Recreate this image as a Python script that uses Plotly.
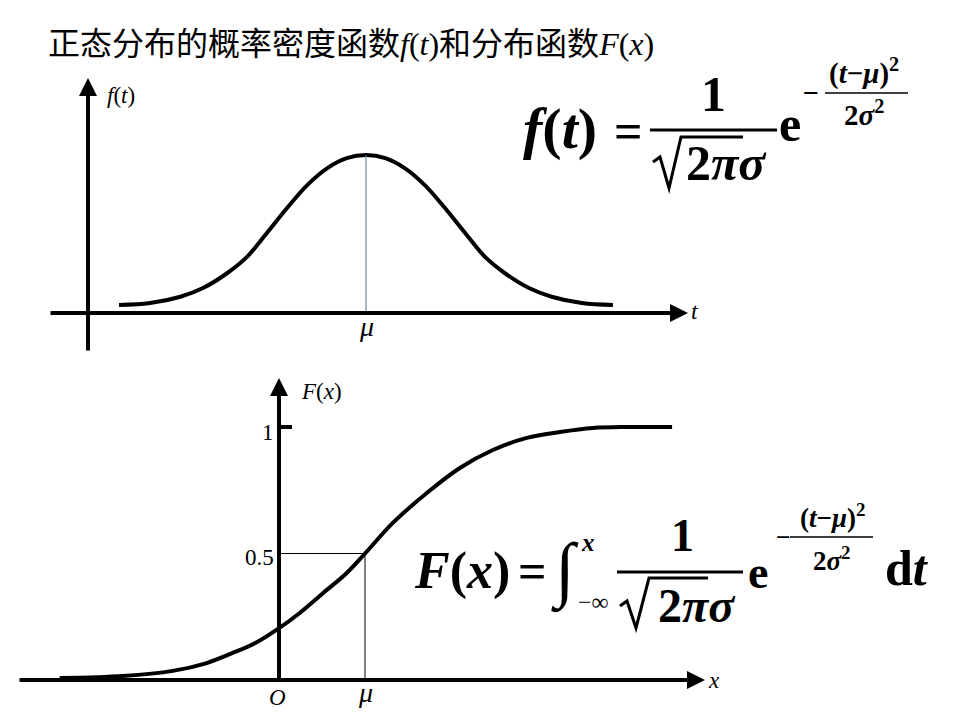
import plotly.graph_objects as go

W, H = 960, 720
SERIF = "Liberation Serif"
CJK = "Noto Sans CJK SC"

# 上图：正态分布密度曲线 f(t)（μ = 0，横轴以 σ 为单位）
t_vals = [-2.94, -2.57, -2.21, -1.94, -1.65, -1.42, -1.18, -0.94, -0.70, -0.46, -0.23, 0.0,
          0.23, 0.46, 0.70, 0.94, 1.18, 1.42, 1.65, 1.94, 2.21, 2.57, 2.94]
f_vals = [0.020, 0.025, 0.041, 0.063, 0.101, 0.141, 0.202, 0.265, 0.323, 0.366, 0.391, 0.399,
          0.391, 0.366, 0.323, 0.265, 0.202, 0.141, 0.101, 0.063, 0.041, 0.025, 0.020]
mu_t = 0.0

# 下图：分布函数曲线 F(x)（原点 O = 0，μ = 1）
x_vals = [-2.51, -1.78, -1.21, -0.82, -0.52, -0.24, 0.0, 0.25, 0.52, 0.79, 1.0, 1.32,
          1.71, 2.09, 2.47, 2.86, 3.24, 3.62, 4.01, 4.53]
F_vals = [0.008, 0.016, 0.036, 0.067, 0.107, 0.150, 0.202, 0.265, 0.344, 0.423, 0.5, 0.621,
          0.739, 0.838, 0.909, 0.957, 0.980, 0.996, 1.0, 1.0]
mu_x = 1.0
half = 0.5
one = 1.0

title_text = ("正态分布的概率密度函数<span style='font-family:Liberation Serif'><i>f</i>(<i>t</i>)</span>"
              "和分布函数<span style='font-family:Liberation Serif'><i>F</i>(<i>x</i>)</span>")


def px(x):
    return x / W


def py(y):
    return 1 - y / H


fig = go.Figure()

# 密度曲线
fig.add_trace(go.Scatter(x=t_vals, y=f_vals, mode='lines', line=dict(color='black', width=4, shape='spline'),
                         xaxis='x', yaxis='y', hoverinfo='skip'))
fig.add_trace(go.Scatter(x=[mu_t, mu_t], y=[0, max(f_vals)], mode='lines',
                         line=dict(color='#4a7896', width=1), xaxis='x', yaxis='y', hoverinfo='skip'))

# 分布函数曲线
fig.add_trace(go.Scatter(x=[0, mu_x, mu_x], y=[half, half, 0], mode='lines',
                         line=dict(color='black', width=1), xaxis='x2', yaxis='y2', hoverinfo='skip'))
fig.add_trace(go.Scatter(x=x_vals, y=F_vals, mode='lines', line=dict(color='black', width=4, shape='spline'),
                         xaxis='x2', yaxis='y2', hoverinfo='skip'))

ann = []
shapes = []


def txt(s, x, y, size, anchor='center', family=SERIF):
    ann.append(dict(text=s, x=px(x), y=py(y), xref='paper', yref='paper', showarrow=False,
                    xanchor=anchor, yanchor='middle', font=dict(family=family, size=size, color='black')))


def arrow(x0, y0, x1, y1):
    ann.append(dict(text='', x=px(x1), y=py(y1), xref='paper', yref='paper', showarrow=True,
                    ax=x0 - x1, ay=y0 - y1, arrowhead=2, arrowsize=0.9, arrowwidth=4,
                    arrowcolor='black', standoff=0))


def seg(x0, y0, x1, y1, w):
    shapes.append(dict(type='line', xref='paper', yref='paper', x0=px(x0), y0=py(y0), x1=px(x1), y1=py(y1),
                       line=dict(color='black', width=w)))


def path(pts, w):
    d = 'M ' + ' L '.join(f'{px(a):.5f},{py(b):.5f}' for a, b in pts)
    shapes.append(dict(type='path', xref='paper', yref='paper', path=d, line=dict(color='black', width=w)))


# 标题
txt(title_text, 46, 41, 32, anchor='left', family=CJK)

# 上图坐标轴
arrow(49, 313, 688, 313)
arrow(88, 352, 88, 78)
txt('<i>f</i>(<i>t</i>)', 121, 96, 23)
txt('<i>t</i>', 695, 311, 24)
ann.append(dict(text='<i>μ</i>', x=mu_t, xref='x', y=py(327), yref='paper', showarrow=False,
                xanchor='center', yanchor='middle', font=dict(family=SERIF, size=28, color='black')))

# 下图坐标轴
arrow(18, 680, 705, 680)
arrow(279, 681, 279, 378)
shapes.append(dict(type='line', xref='paper', yref='y2', x0=px(279), x1=px(292), y0=one, y1=one,
                   line=dict(color='black', width=4)))
txt('<i>F</i>(<i>x</i>)', 321, 392, 23)
txt('1', 268, 432, 23)
txt('0.5', 259, 557, 23)
txt('<i>O</i>', 277, 697, 23)
txt('<i>x</i>', 714, 680, 23)
ann.append(dict(text='<i>μ</i>', x=mu_x, xref='x2', y=py(692), yref='paper', showarrow=False,
                xanchor='center', yanchor='middle', font=dict(family=SERIF, size=28, color='black')))

# 公式 f(t)
txt('<b><i>f</i>(<i>t</i>)</b>', 560, 128, 58)
txt('<b>=</b>', 628, 131, 50)
txt('<b>1</b>', 713, 94, 50)
seg(650, 130, 777, 130, 3)
path([(653, 162), (660, 157), (669, 188), (681, 137), (743, 137)], 3)
txt('<b>2<i>πσ</i></b>', 726, 163, 50)
txt('<b>e</b>', 790, 124, 50)
txt('<b>−</b>', 811, 93, 28)
seg(825, 93, 908, 93, 1.5)
txt('<b>(<i>t</i>−<i>μ</i>)<sup>2</sup></b>', 864, 72, 29)
txt('<b>2<i>σ</i><sup>2</sup></b>', 864, 113, 29)

# 公式 F(x)
txt('<b><i>F</i>(<i>x</i>)</b>', 462, 571, 52)
txt('<b>=</b>', 532, 571, 50)
txt('<b>∫</b>', 565, 571, 72)
txt('<b><i>x</i></b>', 588, 542, 25)
txt('−∞', 593, 602, 24)
seg(617, 572, 743, 572, 3)
txt('<b>1</b>', 682, 535, 46)
path([(620, 606), (627, 601), (636, 628), (649, 578), (708, 578)], 3)
txt('<b>2<i>πσ</i></b>', 696, 605, 48)
txt('<b>e</b>', 758, 572, 46)
txt('<b>−</b>', 783, 537, 26)
seg(790, 537, 873, 537, 1.5)
txt('<b>(<i>t</i>−<i>μ</i>)<sup>2</sup></b>', 832, 516, 27)
txt('<b>2<i>σ</i><sup>2</sup></b>', 832, 559, 27)
txt('<b>d<i>t</i></b>', 907, 568, 50)

# 像素锚点 -> 轴范围
fig.update_layout(
    width=W, height=H, margin=dict(l=0, r=0, t=0, b=0),
    paper_bgcolor='white', plot_bgcolor='rgba(0,0,0,0)', showlegend=False,
    xaxis=dict(domain=[0, 1], range=[(0 - 366) / 84, (W - 366) / 84], visible=False, fixedrange=True),
    yaxis=dict(domain=[0, 1], range=[-(H - 313) / 396, 313 / 396], visible=False, fixedrange=True),
    xaxis2=dict(domain=[0, 1], range=[(0 - 278) / 87, (W - 278) / 87], visible=False,
                overlaying='x', anchor='y2', fixedrange=True),
    yaxis2=dict(domain=[0, 1], range=[-(H - 680) / 253, 680 / 253], visible=False,
                overlaying='y', anchor='x2', fixedrange=True),
    annotations=ann, shapes=shapes,
)

# 去掉页面默认的 8px 边距
fig.write_html("out.html", config={'displayModeBar': False},
               post_script="document.body.style.margin='0';")
